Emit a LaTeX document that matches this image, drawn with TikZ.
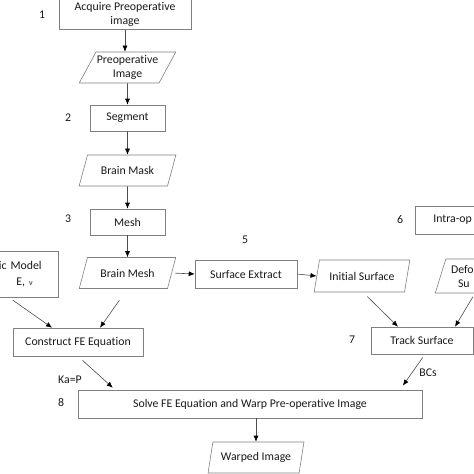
\documentclass[tikz,border=0pt]{standalone}
\usepackage{fontspec}
\setmainfont{Carlito}[Ligatures=NoCommon]
\usetikzlibrary{shapes.geometric,arrows.meta}

\tikzset{
  procbox/.style={draw=black!50, line width=0.6pt, rectangle, inner sep=1pt, align=center, text=black!90},
  databox/.style={draw=black!50, line width=0.6pt, trapezium, trapezium left angle=56, trapezium right angle=124,
    trapezium stretches=true, minimum width=97pt, minimum height=31pt, inner sep=0pt, align=center, text=black!90},
  flow/.style={draw=black!70, line width=0.6pt, -{Latex[length=6pt,width=5pt,color=black]}},
  numlbl/.style={text=black!90},
}

\begin{document}
\begin{tikzpicture}[x=1pt,y=-1pt,font=\fontsize{11.8}{14}\selectfont]
	\useasboundingbox (0,0) rectangle (474,474);
	\clip (0,0) rectangle (474,474);

	\node[procbox, minimum width=132pt, minimum height=31pt] (acq) at (125,14) {Acquire Preoperative\\image};
	\node[databox] (preimg) at (127.5,67.5) {Preoperative\\Image};
	\node[procbox, minimum width=75pt, minimum height=26pt] (seg) at (127.5,118) {Segment};
	\node[databox] (mask) at (127.5,170.5) {Brain Mask};
	\node[procbox, minimum width=75pt, minimum height=26pt] (mesh) at (127.5,222) {Mesh};
	\node[databox] (bmesh) at (127.5,273) {Brain Mesh};
	\node[procbox, minimum width=102pt, minimum height=28pt] (surfext) at (246,274) {Surface Extract};
	\node[databox, trapezium left angle=64, trapezium right angle=116, minimum width=96pt, minimum height=32pt] (initsurf) at (362,276) {Initial Surface};
	\node[procbox, anchor=west, minimum height=28pt, text width=90pt, align=left, inner xsep=18pt] (intraop) at (415,220) {Intra-op};
	\node[databox, trapezium left angle=68, trapezium right angle=112, minimum width=90pt, minimum height=34pt, text width=58pt, align=left] (defsurf) at (480,276) {Defo\\\hspace*{7pt}Su};
	\node[procbox, anchor=east, minimum height=46pt, text width=80pt, align=right, inner xsep=17pt] (elastic) at (59,274) {ic Model\\[2pt]E,~{\footnotesize ν}\hspace*{9pt}};
	\node[procbox, minimum width=130pt, minimum height=28pt] (construct) at (78,342) {Construct FE Equation};
	\node[procbox, minimum width=102pt, minimum height=27pt] (track) at (422,340.5) {Track Surface};
	\node[procbox, minimum width=344pt, minimum height=28pt] (solve) at (250,404) {Solve FE Equation and Warp Pre-operative Image};
	\node[databox, trapezium left angle=69, trapezium right angle=111, minimum width=96pt, minimum height=31pt] (warped) at (256,457.5) {Warped Image};

	\node[numlbl] (n1) at (42,15) {1};
	\node[numlbl] (n2) at (68,118) {2};
	\node[numlbl] (n3) at (68,219) {3};
	\node[numlbl] (n5) at (245,240) {5};
	\node[numlbl] (n6) at (400,220) {6};
	\node[numlbl] (n7) at (352,340) {7};
	\node[numlbl] (n8) at (61,403) {8};
	\node[numlbl] (kap) at (70,380) {Ka=P};
	\node[numlbl] (bcs) at (428,373) {BCs};

	\draw[flow] (acq.south) -- (acq.south |- preimg.north);
	\draw[flow] (preimg) -- (seg);
	\draw[flow] (seg) -- (mask);
	\draw[flow] (mask) -- (mesh);
	\draw[flow] (mesh) -- (bmesh);
	\draw[flow, shorten <=3pt] (bmesh.east) -- (surfext.west);
	\draw[flow] (surfext.east) -- (initsurf.west);
	\draw[flow, shorten <=5pt] ([xshift=7pt]elastic.south) -- ([xshift=-26pt]construct.north);
	\draw[flow, shorten <=14pt] (bmesh.south) -- ([xshift=22pt]construct.north);
	\draw[flow, shorten <=6pt, shorten >=3pt] (construct.south) -- ([xshift=-135pt]solve.north);
	\draw[flow, shorten <=6pt] ([xshift=1pt]initsurf.south) -- ([xshift=-24pt]track.north);
	\draw[flow, shorten <=4pt] ([xshift=-5pt]defsurf.south) -- ([xshift=33pt]track.north);
	\draw[flow, shorten <=4pt, shorten >=5pt] ([xshift=3pt]track.south) -- ([xshift=150pt]solve.north);
	\draw[flow] ([xshift=6pt]solve.south) -- ([xshift=6pt]solve.south |- warped.north);
\end{tikzpicture}
\end{document}
